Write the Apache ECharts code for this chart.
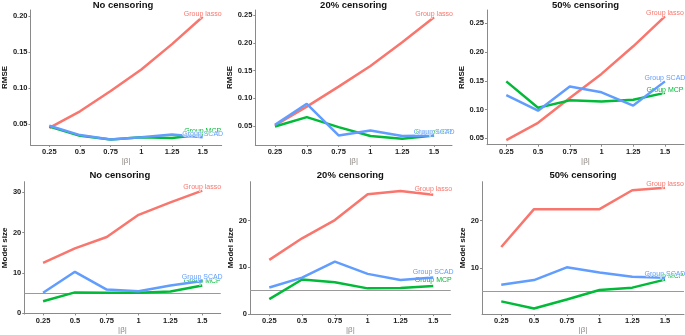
<!DOCTYPE html>
<html>
<head>
<meta charset="utf-8">
<script src="https://cdn.jsdelivr.net/npm/echarts@6/dist/echarts.min.js"></script>
<style>
  html, body { margin: 0; padding: 0; background: #fff; }
  #main { width: 685px; height: 335px; }
</style>
</head>
<body>
<div id="main"></div>
<script>
// x values (|beta|) and their tick labels
const betas = [0.25, 0.5, 0.75, 1, 1.25, 1.5];
const betaLabels = ['0.25', '0.5', '0.75', '1', '1.25', '1.5'];

// RMSE
const rmseLassoNo = [0.045, 0.068, 0.096, 0.126, 0.161, 0.199];
const rmseMcpNo   = [0.047, 0.034, 0.029, 0.032, 0.031, 0.036];
const rmseScadNo  = [0.048, 0.035, 0.029, 0.032, 0.036, 0.032];
const rmseLasso20 = [0.051, 0.085, 0.121, 0.158, 0.201, 0.246];
const rmseMcp20   = [0.049, 0.066, 0.048, 0.032, 0.027, 0.033];
const rmseScad20  = [0.052, 0.090, 0.033, 0.042, 0.032, 0.033];
const rmseLasso50 = [0.047, 0.077, 0.120, 0.162, 0.210, 0.262];
const rmseMcp50   = [0.149, 0.103, 0.116, 0.114, 0.117, 0.129];
const rmseScad50  = [0.125, 0.098, 0.140, 0.130, 0.107, 0.149];

// model size
const sizeLassoNo = [12.5, 16.1, 18.9, 24.4, 27.5, 30.4];
const sizeMcpNo   = [3.0, 5.2, 5.1, 5.1, 5.4, 6.9];
const sizeScadNo  = [5.1, 10.3, 5.9, 5.5, 6.9, 8.0];
const sizeLasso20 = [11.6, 16.2, 20.1, 25.6, 26.3, 25.5];
const sizeMcp20   = [3.2, 7.4, 6.8, 5.5, 5.6, 6.0];
const sizeScad20  = [5.7, 7.8, 11.2, 8.6, 7.3, 7.8];
const sizeLasso50 = [14.4, 22.4, 22.4, 22.4, 26.4, 26.9];
const sizeMcp50   = [2.9, 1.4, 3.3, 5.3, 5.8, 7.5];
const sizeScad50  = [6.4, 7.4, 10.1, 9.0, 8.1, 7.9];

const trueSize = 5;
const rmseTicks = [0.05, 0.10, 0.15, 0.20, 0.25];
const sizeTicks = [0, 10, 20, 30];

const panels = [
  { title: 'No censoring', yName: 'RMSE', series: [rmseLassoNo, rmseMcpNo, rmseScadNo], ticks: rmseTicks, dec: 2 },
  { title: '20% censoring', yName: 'RMSE', series: [rmseLasso20, rmseMcp20, rmseScad20], ticks: rmseTicks, dec: 2 },
  { title: '50% censoring', yName: 'RMSE', series: [rmseLasso50, rmseMcp50, rmseScad50], ticks: rmseTicks, dec: 2 },
  { title: 'No censoring', yName: 'Model size', series: [sizeLassoNo, sizeMcpNo, sizeScadNo], ticks: sizeTicks, dec: 0, hline: true },
  { title: '20% censoring', yName: 'Model size', series: [sizeLasso20, sizeMcp20, sizeScad20], ticks: sizeTicks, dec: 0, hline: true },
  { title: '50% censoring', yName: 'Model size', series: [sizeLasso50, sizeMcp50, sizeScad50], ticks: sizeTicks, dec: 0, hline: true }
];

// layout in px, and axis ranges that match the ggplot expansion
const layout = [
  { left: 24.3, top: 10, width: 197.4, height: 135, xMin: 0.0965, xMax: 1.655, yMin: 0.0213, yMax: 0.2083, yGap: 16, lblOff: -3, titleTop: 0.5 },
  { left: 255.3, top: 10, width: 196.7, height: 135, xMin: 0.0954, xMax: 1.641, yMin: 0.0158, yMax: 0.259, yGap: 15.5, lblOff: -3.5, titleTop: 0.5 },
  { left: 487, top: 10, width: 197, height: 134.7, xMin: 0.098, xMax: 1.65, yMin: 0.0389, yMax: 0.2731, yGap: 16.5, lblOff: -3, titleTop: 0.5 },
  { left: 19, top: 181.7, width: 201.7, height: 134, xMin: 0.102, xMax: 1.645, yMin: -0.17, yMax: 32.6, yGap: 11, lblOff: -4, titleTop: 170.5 },
  { left: 250, top: 181.7, width: 200.7, height: 134, xMin: 0.103, xMax: 1.633, yMin: 0, yMax: 28.3, yGap: 11.5, lblOff: -6, titleTop: 170.5 },
  { left: 482, top: 181.7, width: 202, height: 134.3, xMin: 0.103, xMax: 1.645, yMin: 0.21, yMax: 28.2, yGap: 11, lblOff: -3.5, titleTop: 170.5 }
];

const names = ['Group lasso', 'Group MCP', 'Group SCAD'];
const colors = ['#F8766D', '#00BA38', '#619CFF'];
const sans = "'Liberation Sans', Arial, sans-serif";
const axisGray = '#8a8a8a';

let grid = [], xAxis = [], yAxis = [], title = [], series = [];

panels.forEach((p, i) => {
  const L = layout[i];
  grid.push({ left: L.left, top: L.top, width: L.width, height: L.height, containLabel: false });
  title.push({
    text: p.title,
    left: L.left + L.width / 2,
    top: L.titleTop,
    padding: 0,
    textAlign: 'center',
    textStyle: { fontFamily: sans, fontSize: 9.5, fontWeight: 'bold', color: '#111' }
  });
  xAxis.push({
    type: 'value', gridIndex: i, min: L.xMin, max: L.xMax,
    name: '|β|', nameLocation: 'middle', nameGap: 10,
    nameTextStyle: { fontFamily: sans, fontSize: 8, color: '#8c8580' },
    axisLine: { show: true, lineStyle: { color: axisGray, width: 1 } },
    axisTick: { show: true, length: 2, customValues: betas, lineStyle: { color: axisGray } },
    axisLabel: {
      customValues: betas, margin: 3,
      formatter: v => betaLabels[betas.indexOf(v)],
      fontFamily: sans, fontSize: 7.5, fontWeight: 'bold', color: '#222'
    },
    splitLine: { show: false }
  });
  const yt = p.ticks.filter(t => t >= L.yMin && t <= L.yMax);
  yAxis.push({
    type: 'value', gridIndex: i, min: L.yMin, max: L.yMax,
    name: p.yName, nameLocation: 'middle', nameGap: L.yGap,
    nameTextStyle: { fontFamily: sans, fontSize: 8, fontWeight: 'bold', color: '#111' },
    axisLine: { show: true, lineStyle: { color: axisGray, width: 1 } },
    axisTick: { show: true, length: 2, customValues: yt, lineStyle: { color: axisGray } },
    axisLabel: {
      customValues: yt, margin: 3,
      formatter: v => v.toFixed(p.dec),
      fontFamily: sans, fontSize: 7.5, fontWeight: 'bold', color: '#222'
    },
    splitLine: { show: false }
  });
  p.series.forEach((vals, k) => {
    const s = {
      type: 'line', name: names[k], xAxisIndex: i, yAxisIndex: i,
      data: vals.map((v, j) => {
        const item = { value: [betas[j], v] };
        if (j === vals.length - 1) {
          item.label = {
            show: true, position: 'inside', offset: [0, L.lblOff],
            formatter: names[k], color: colors[k],
            fontFamily: sans, fontSize: 7,
            textBorderColor: '#fff', textBorderWidth: 1
          };
        }
        return item;
      }),
      symbol: 'circle', symbolSize: 0, showSymbol: true,
      lineStyle: { color: colors[k], width: 2.5 },
      itemStyle: { color: colors[k] },
      z: 3 + k,
      silent: true
    };
    if (k === 0 && p.hline) {
      s.markLine = {
        silent: true, symbol: 'none', label: { show: false },
        lineStyle: { color: '#9a9a9a', width: 1, type: 'solid' },
        data: [{ yAxis: trueSize }],
        z: 1
      };
    }
    series.push(s);
  });
});

const option = {
  backgroundColor: '#fff',
  animation: false,
  title: title,
  grid: grid,
  xAxis: xAxis,
  yAxis: yAxis,
  series: series
};

const chart = echarts.init(document.getElementById('main'));
chart.setOption(option);
window.addEventListener('resize', chart.resize);
</script>
</body>
</html>
